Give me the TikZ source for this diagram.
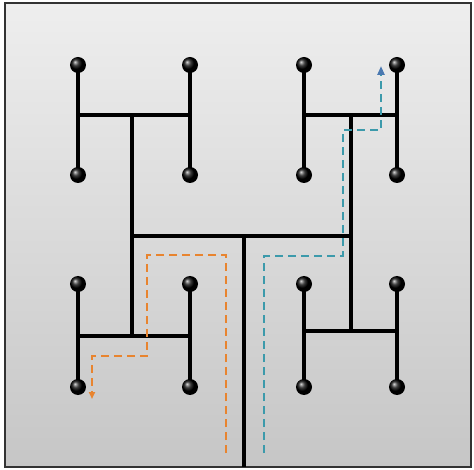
\documentclass[tikz,border=0pt]{standalone}
\usetikzlibrary{arrows.meta,backgrounds}
\definecolor{bgtop}{HTML}{EEEEEE}
\definecolor{bgbot}{HTML}{C6C6C6}
\definecolor{pathorange}{HTML}{E8842F}
\definecolor{pathteal}{HTML}{3C9AAB}
\definecolor{tipblue}{HTML}{4A78B0}
\tikzset{
  wire/.style={line width=4pt, black},
  dot/.style={circle, inner sep=0pt, minimum size=16pt, shading=ball, ball color=black},
  route/.style={line width=2.4pt, dash pattern=on 8pt off 5pt},
}
\begin{document}
\begin{tikzpicture}[x=1pt,y=-1pt]
\useasboundingbox (0,0) rectangle (474,470);
\shade[top color=bgtop, bottom color=bgbot] (5,3) rectangle (471,467);
\draw[black!80, line width=1.4pt] (5,3) rectangle (471,467);
% coordinates
\coordinate (a1) at (78,65);  \coordinate (a2) at (190,65);
\coordinate (a3) at (78,175); \coordinate (a4) at (190,175);
\coordinate (b1) at (304,65); \coordinate (b2) at (397,65);
\coordinate (b3) at (304,175); \coordinate (b4) at (397,175);
\coordinate (c1) at (78,284); \coordinate (c2) at (190,284);
\coordinate (c3) at (78,387); \coordinate (c4) at (190,387);
\coordinate (d1) at (304,284); \coordinate (d2) at (397,284);
\coordinate (d3) at (304,387); \coordinate (d4) at (397,387);
\coordinate (ha) at (132,115); \coordinate (hb) at (351,115);
\coordinate (hc) at (132,336); \coordinate (hd) at (351,331);
\coordinate (ml) at (132,236); \coordinate (mr) at (351,236);
\coordinate (root) at (244,236); \coordinate (rootend) at (244,467);
% H-tree wires
\draw[wire] (a1) -- (a3); \draw[wire] (a2) -- (a4);
\draw[wire] (a1 |- ha) -- (a2 |- ha);
\draw[wire] (b1) -- (b3); \draw[wire] (b2) -- (b4);
\draw[wire] (b1 |- hb) -- (b2 |- hb);
\draw[wire] (c1) -- (c3); \draw[wire] (c2) -- (c4);
\draw[wire] (c1 |- hc) -- (c2 |- hc);
\draw[wire] (d1) -- (d3); \draw[wire] (d2) -- (d4);
\draw[wire] (d1 |- hd) -- (d2 |- hd);
\draw[wire] (ha) -- (hc);
\draw[wire] (hb) -- (hd);
\draw[wire] (ml) -- (mr);
\draw[wire] (root) -- (rootend);
% dots
\foreach \p in {a1,a2,a3,a4,b1,b2,b3,b4,c1,c2,c3,c4,d1,d2,d3,d4}
  \node[dot] (n\p) at (\p) {};
% routes
\coordinate (os) at (226,453);
\coordinate (oe) at (92,399);
\draw[route, pathorange, -{Triangle[width=6pt,length=7pt,fill=pathorange]}]
  (os) -- (226,255) -- (147,255) -- (147,356) -- (92,356) -- (oe);
\coordinate (ts) at (264,453);
\coordinate (te) at (381,66);
\draw[route, pathteal, -{Triangle[width=7pt,length=9pt,fill=tipblue,color=tipblue]}]
  (ts) -- (264,256) -- (343,256) -- (343,130) -- (381,130) -- (te);
\end{tikzpicture}
\end{document}
